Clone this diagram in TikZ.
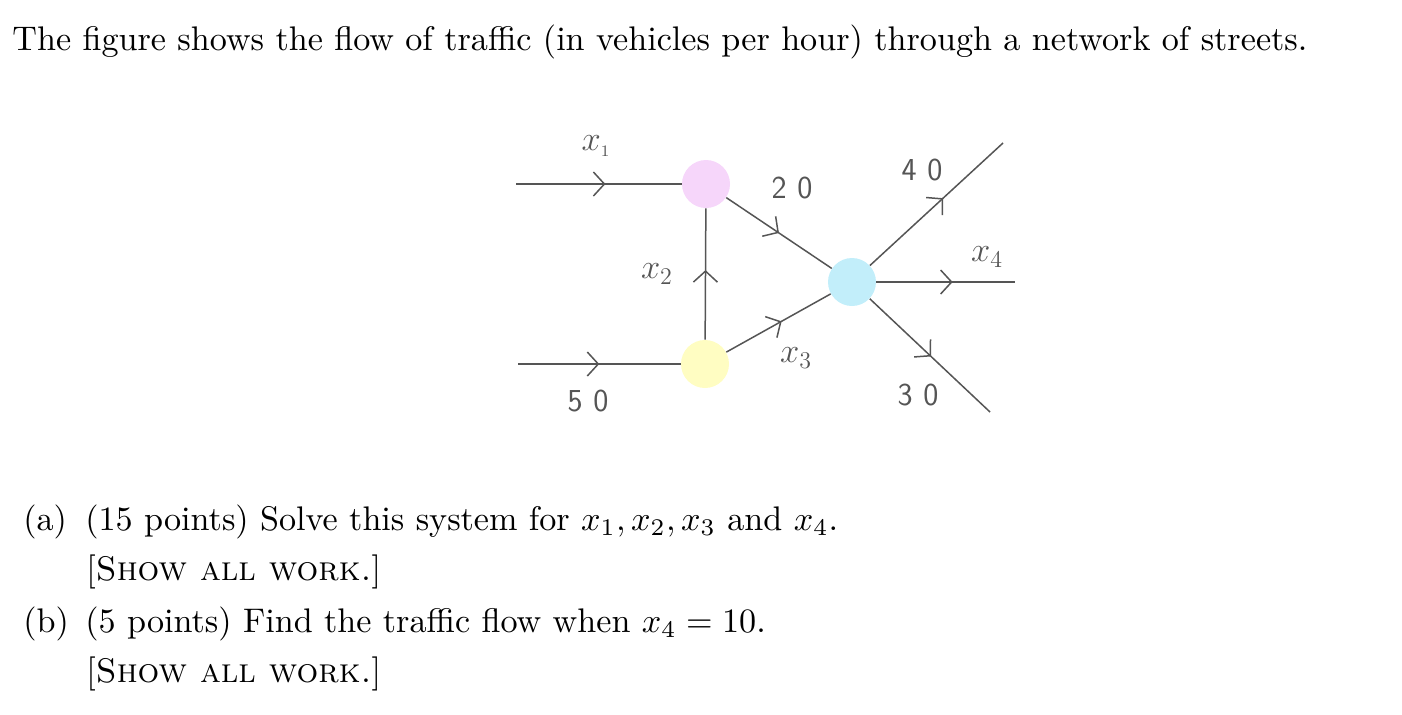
\documentclass[tikz,border=0pt]{standalone}
\usetikzlibrary{arrows.meta,decorations.markings}
\definecolor{pinkn}{HTML}{F6D6FA}
\definecolor{yellown}{HTML}{FFFDC2}
\definecolor{bluen}{HTML}{C2EEFA}
\definecolor{ink}{HTML}{555555}
\newsavebox\titlebox
\newlength\titlewd
\begin{document}
\sbox\titlebox{\normalsize The figure shows the flow of traffic (in vehicles per hour) through a network of streets.}%
\setlength\titlewd{\wd\titlebox}%
\pgfmathsetmacro\txtscale{647.5/\titlewd}%
\begin{tikzpicture}[x=0.5pt,y=-0.5pt,
  junc/.style={circle,minimum size=24pt,inner sep=0pt,draw=none},
  street/.style={draw=ink,line width=0.75pt},
  flow/.style={street,postaction={decorate},decoration={markings,
      mark=at position #1 with {\arrow[ink,line width=0.75pt]{Straight Barb[length=5.5pt,width=12pt]}}}},
  hand/.style={text=ink,font=\sffamily\fontsize{16}{18}\selectfont,inner sep=0pt},
  handx/.style={text=ink,font=\fontsize{17}{19}\selectfont,inner sep=0pt},
  body/.style={anchor=base west,inner sep=0pt,font=\normalsize}]
\useasboundingbox (0,0) rectangle (1402,714);

% title and questions
\node[body] (title) at (12,50) {\scalebox{\txtscale}{The figure shows the flow of traffic (in vehicles per hour) through a network of streets.}};
\node[body] (la) at (23,530) {\scalebox{\txtscale}{(a)}};
\node[body] (qa) at (85,530) {\scalebox{\txtscale}{(15 points) Solve this system for $x_1, x_2, x_3$ and $x_4$.}};
\node[body] (wa) at (86,580) {\scalebox{\txtscale}{[\textsc{Show all work.}]}};
\node[body] (lb) at (23,632) {\scalebox{\txtscale}{(b)}};
\node[body] (qb) at (85,632) {\scalebox{\txtscale}{(5 points) Find the traffic flow when $x_4=10$.}};
\node[body] (wb) at (86,682) {\scalebox{\txtscale}{[\textsc{Show all work.}]}};

% junctions
\node[junc,fill=pinkn] (P) at (706,184) {};
\node[junc,fill=yellown] (Y) at (705,364) {};
\node[junc,fill=bluen] (B) at (852,282) {};

% free ends
\coordinate (in1) at (516,184);
\coordinate (in2) at (518,364);
\coordinate (ne) at (1003,143);
\coordinate (ea) at (1015,282);
\coordinate (se) at (990,412);

% streets
\draw[flow=0.54] (in1) -- (P);
\draw[flow=0.50] (in2) -- (Y);
\draw[flow=0.53] (Y) -- (P);
\draw[flow=0.50] (P) -- (B);
\draw[flow=0.53] (Y) -- (B);
\draw[flow=0.55] (B) -- (ne);
\draw[flow=0.55] (B) -- (ea);
\draw[flow=0.51] (B) -- (se);

% labels
\node[handx] (lx1) at (596,146) {$x_{\scriptscriptstyle 1}$};
\node[handx] (lx2) at (657,274) {$x_2$};
\node[hand] (l50) at (588,401) {5\,\,0};
\node[hand] (l20) at (792,188) {2\,\,0};
\node[hand] (l40) at (922,170) {4\,\,0};
\node[handx] (lx4) at (987,257) {$x_4$};
\node[handx] (lx3) at (796,358) {$x_3$};
\node[hand] (l30) at (918,395) {3\,\,0};
\end{tikzpicture}
\end{document}
